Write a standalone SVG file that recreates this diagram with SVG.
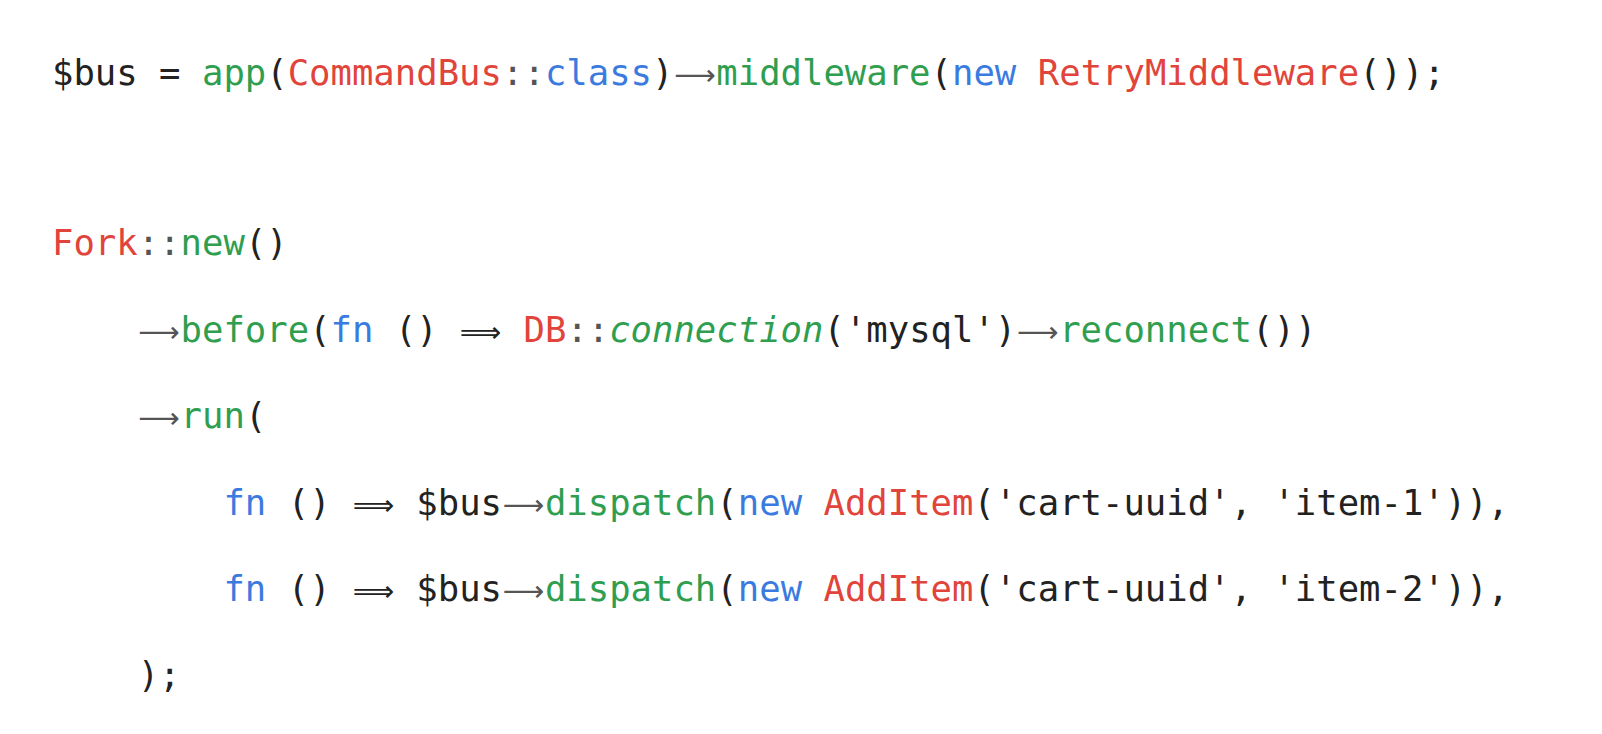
<svg xmlns="http://www.w3.org/2000/svg" width="1602" height="734" viewBox="0 0 1602 734">
<style>
text{font-family:"DejaVu Sans Mono","Liberation Mono",monospace;font-size:35.6px;fill:#222;white-space:pre}
.r{fill:#e0443a}.g{fill:#2f9e4f}.b{fill:#3b7be0}.k{fill:#222}.m{fill:#555}.i{font-style:italic}
.a{font-family:"DejaVu Sans",sans-serif;font-size:29px;text-anchor:middle}
</style>
<rect width="1602" height="734" fill="#fff"/>
<g id="line1">
<text y="85" xml:space="preserve"><tspan x="52">$bus = </tspan><tspan class="g" x="202">app</tspan><tspan x="266.3">(</tspan><tspan class="r" x="287.7">CommandBus</tspan><tspan class="m" x="502">::</tspan><tspan class="b" x="544.9">class</tspan><tspan x="652">)</tspan><tspan class="m a" x="695">⟶</tspan><tspan class="g" x="716.3">middleware</tspan><tspan x="930.6">(</tspan><tspan class="b" x="952">new</tspan><tspan class="r" x="1037.8">RetryMiddleware</tspan><tspan x="1359.2">());</tspan></text>
</g>
<g id="line2">
<text y="255" xml:space="preserve"><tspan class="r" x="52">Fork</tspan><tspan class="m" x="137.7">::</tspan><tspan class="g" x="180.6">new</tspan><tspan x="244.9">()</tspan></text>
</g>
<g id="line3">
<text y="342" xml:space="preserve"><tspan class="m a" x="159.1">⟶</tspan><tspan class="g" x="180.6">before</tspan><tspan x="309.2">(</tspan><tspan class="b" x="330.6">fn</tspan><tspan x="373.5"> () </tspan><tspan class="a" x="480.6">⟹</tspan><tspan class="r" x="523.5">DB</tspan><tspan class="m" x="566.4">::</tspan><tspan class="g i" x="609.2">connection</tspan><tspan x="823.5">('mysql')</tspan><tspan class="m a" x="1037.8">⟶</tspan><tspan class="g" x="1059.2">reconnect</tspan><tspan x="1252.1">())</tspan></text>
</g>
<g id="line4">
<text y="428" xml:space="preserve"><tspan class="m a" x="159.1">⟶</tspan><tspan class="g" x="180.6">run</tspan><tspan x="244.9">(</tspan></text>
</g>
<g id="line5">
<text y="515" xml:space="preserve"><tspan class="b" x="223.4">fn</tspan><tspan x="266.3"> () </tspan><tspan class="a" x="373.5">⟹</tspan><tspan x="416.3">$bus</tspan><tspan class="m a" x="523.5">⟶</tspan><tspan class="g" x="544.9">dispatch</tspan><tspan x="716.3">(</tspan><tspan class="b" x="737.8">new</tspan><tspan class="r" x="823.5">AddItem</tspan><tspan x="973.5">('cart-uuid', 'item-1')),</tspan></text>
</g>
<g id="line6">
<text y="601" xml:space="preserve"><tspan class="b" x="223.4">fn</tspan><tspan x="266.3"> () </tspan><tspan class="a" x="373.5">⟹</tspan><tspan x="416.3">$bus</tspan><tspan class="m a" x="523.5">⟶</tspan><tspan class="g" x="544.9">dispatch</tspan><tspan x="716.3">(</tspan><tspan class="b" x="737.8">new</tspan><tspan class="r" x="823.5">AddItem</tspan><tspan x="973.5">('cart-uuid', 'item-2')),</tspan></text>
</g>
<g id="line7">
<text y="687" xml:space="preserve"><tspan x="137.7">);</tspan></text>
</g>
<g id="connectors"/>
</svg>
